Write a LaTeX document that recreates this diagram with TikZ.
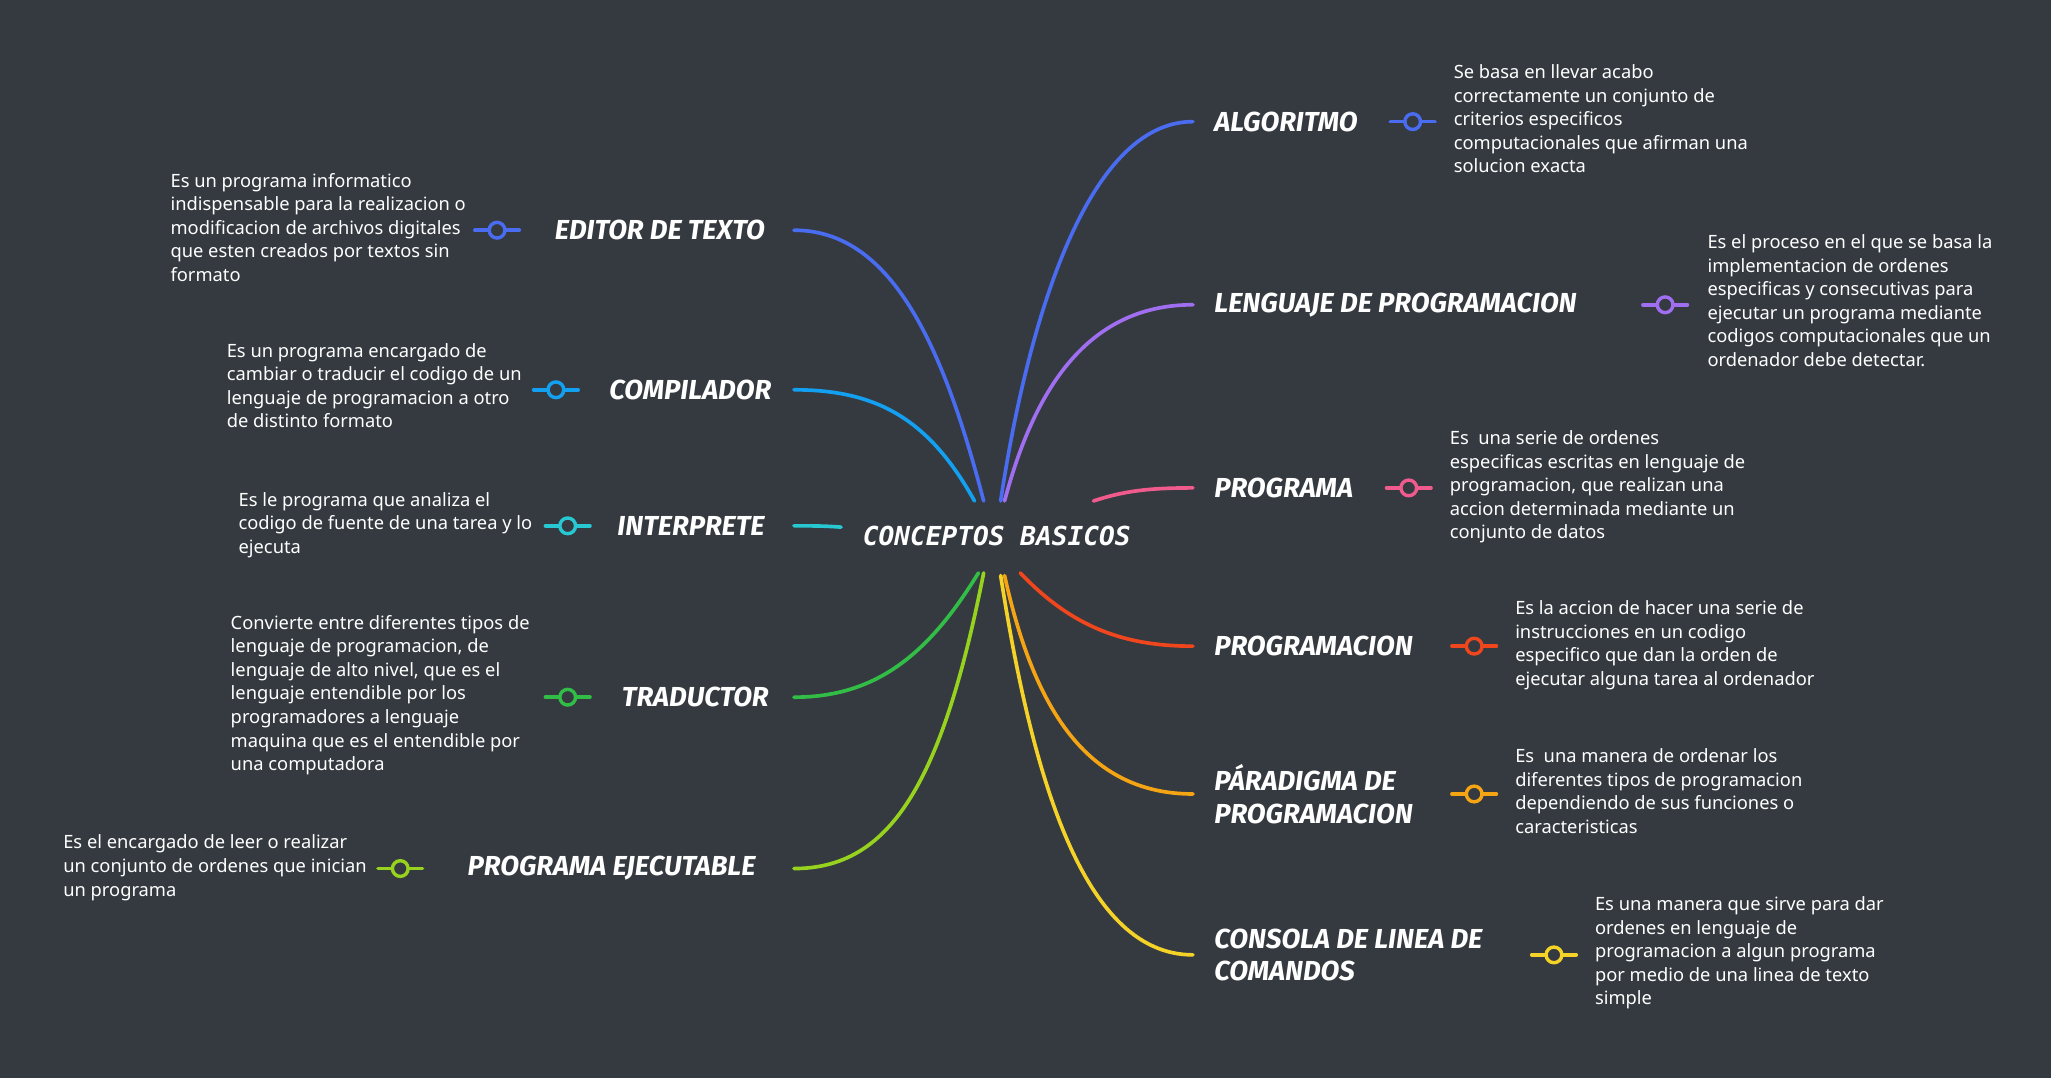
\documentclass[tikz,border=0pt]{standalone}
\usepackage{fontspec}
\setmainfont{Noto Sans}
\newfontfamily\monof{DejaVu Sans Mono}
\newfontfamily\ttlf{Fira Sans}
\begin{document}
\begin{tikzpicture}[x=0.5pt,y=-0.5pt,
 ttl/.style={font=\ttlf\fontsize{10.5}{12.5}\selectfont\bfseries\itshape, text=white, inner sep=0pt, align=left},
 dsc/.style={font=\fontsize{7}{9}\selectfont, text=white, inner sep=0pt, align=left, anchor=north west},
 br/.style={line width=1.4pt, line cap=round},
 knob/.style={circle, draw=#1, line width=1.3pt, minimum size=6pt, inner sep=0pt, fill=bgc}]
\definecolor{bgc}{RGB}{52,58,64}
\definecolor{cA}{RGB}{74,108,240}
\definecolor{cB}{RGB}{160,110,240}
\definecolor{cC}{RGB}{240,90,140}
\definecolor{cD}{RGB}{240,70,30}
\definecolor{cE}{RGB}{245,165,20}
\definecolor{cF}{RGB}{245,210,40}
\definecolor{cG}{RGB}{20,160,240}
\definecolor{cH}{RGB}{40,200,210}
\definecolor{cI}{RGB}{50,190,70}
\definecolor{cJ}{RGB}{150,210,30}
\fill[bgc] (0,0) rectangle (1568,824);
\node[font=\monof\fontsize{10}{12}\selectfont\bfseries\itshape, text=white] (c) at (762,410) {CONCEPTOS BASICOS};
\coordinate (s1) at (765,383); \coordinate (s2) at (768,383); \coordinate (s3) at (836,383);
\coordinate (s4) at (780,438); \coordinate (s5) at (768,440); \coordinate (s6) at (765,440);
\coordinate (t1) at (752,383); \coordinate (t2) at (745,383); \coordinate (t3) at (643,403);
\coordinate (t4) at (748,438); \coordinate (t5) at (752,438);
\node[ttl, anchor=west] (a) at (928,93) {ALGORITMO};
\node[ttl, anchor=west] (l) at (928,233) {LENGUAJE DE PROGRAMACION};
\node[ttl, anchor=west] (p) at (928,373) {PROGRAMA};
\node[ttl, anchor=west] (pn) at (928,494) {PROGRAMACION};
\node[ttl, anchor=west] (pd) at (928,607) {PÁRADIGMA DE\\PROGRAMACION};
\node[ttl, anchor=west] (cs) at (928,730) {CONSOLA DE LINEA DE\\COMANDOS};
\node[ttl, anchor=east] (e) at (585,176) {EDITOR DE TEXTO};
\node[ttl, anchor=east] (co) at (590,298) {COMPILADOR};
\node[ttl, anchor=east] (i) at (585,402) {INTERPRETE};
\node[ttl, anchor=east] (tr) at (588,533) {TRADUCTOR};
\node[ttl, anchor=east] (pe) at (578,664) {PROGRAMA EJECUTABLE};
\draw[br, cA] (s1) .. controls (785,250) and (830,93) .. (912,93);
\draw[br, cB] (s2) .. controls (790,300) and (830,233) .. (912,233);
\draw[br, cC] (s3) .. controls (860,375) and (880,373) .. (912,373);
\draw[br, cD] (s4) .. controls (820,480) and (860,494) .. (912,494);
\draw[br, cE] (s5) .. controls (790,540) and (830,607) .. (912,607);
\draw[br, cF] (s6) .. controls (790,600) and (830,730) .. (912,730);
\draw[br, cA] (t1) .. controls (720,260) and (680,176) .. (607,176);
\draw[br, cG] (t2) .. controls (710,320) and (670,298) .. (607,298);
\draw[br, cH] (t3) .. controls (630,402) and (620,402) .. (607,402);
\draw[br, cI] (t4) .. controls (710,500) and (670,533) .. (607,533);
\draw[br, cJ] (t5) .. controls (720,600) and (680,664) .. (607,664);
\foreach \n/\x/\y/\col in {ka/1080/93/cA, kl/1273/233/cB, kp/1077/373/cC, kpn/1127/494/cD, kpd/1127/607/cE, kcs/1188/730/cF,
  ke/380/176/cA, kco/425/298/cG, ki/434/402/cH, ktr/434/533/cI, kpe/306/664/cJ}{
  \draw[br, \col] (\x-17,\y) -- (\x+17,\y);
  \node[knob=\col] (\n) at (\x,\y) {};
}
\node[dsc] (da) at (1111,49) {Se basa en llevar acabo\\correctamente un conjunto de\\criterios especificos\\computacionales que afirman una\\solucion exacta};
\node[dsc] (dl) at (1305,179) {Es el proceso en el que se basa la\\implementacion de ordenes\\especificas y consecutivas para\\ejecutar un programa mediante\\codigos computacionales que un\\ordenador debe detectar.};
\node[dsc] (dp) at (1108,329) {Es\ \ una serie de ordenes\\especificas escritas en lenguaje de\\programacion, que realizan una\\accion determinada mediante un\\conjunto de datos};
\node[dsc] (dpn) at (1158,459) {Es la accion de hacer una serie de\\instrucciones en un codigo\\especifico que dan la orden de\\ejecutar alguna tarea al ordenador};
\node[dsc] (dpd) at (1158,572) {Es\ \ una manera de ordenar los\\diferentes tipos de programacion\\dependiendo de sus funciones o\\caracteristicas};
\node[dsc] (dcs) at (1219,685) {Es una manera que sirve para dar\\ordenes en lenguaje de\\programacion a algun programa\\por medio de una linea de texto\\simple};
\node[dsc] (de) at (130,132) {Es un programa informatico\\indispensable para la realizacion o\\modificacion de archivos digitales\\que esten creados por textos sin\\formato};
\node[dsc] (dco) at (173,262) {Es un programa encargado de\\cambiar o traducir el codigo de un\\lenguaje de programacion a otro\\de distinto formato};
\node[dsc] (di) at (182,376) {Es le programa que analiza el\\codigo de fuente de una tarea y lo\\ejecuta};
\node[dsc] (dtr) at (176,470) {Convierte entre diferentes tipos de\\lenguaje de programacion, de\\lenguaje de alto nivel, que es el\\lenguaje entendible por los\\programadores a lenguaje\\maquina que es el entendible por\\una computadora};
\node[dsc] (dpe) at (48,638) {Es el encargado de leer o realizar\\un conjunto de ordenes que inician\\un programa};
\end{tikzpicture}
\end{document}
